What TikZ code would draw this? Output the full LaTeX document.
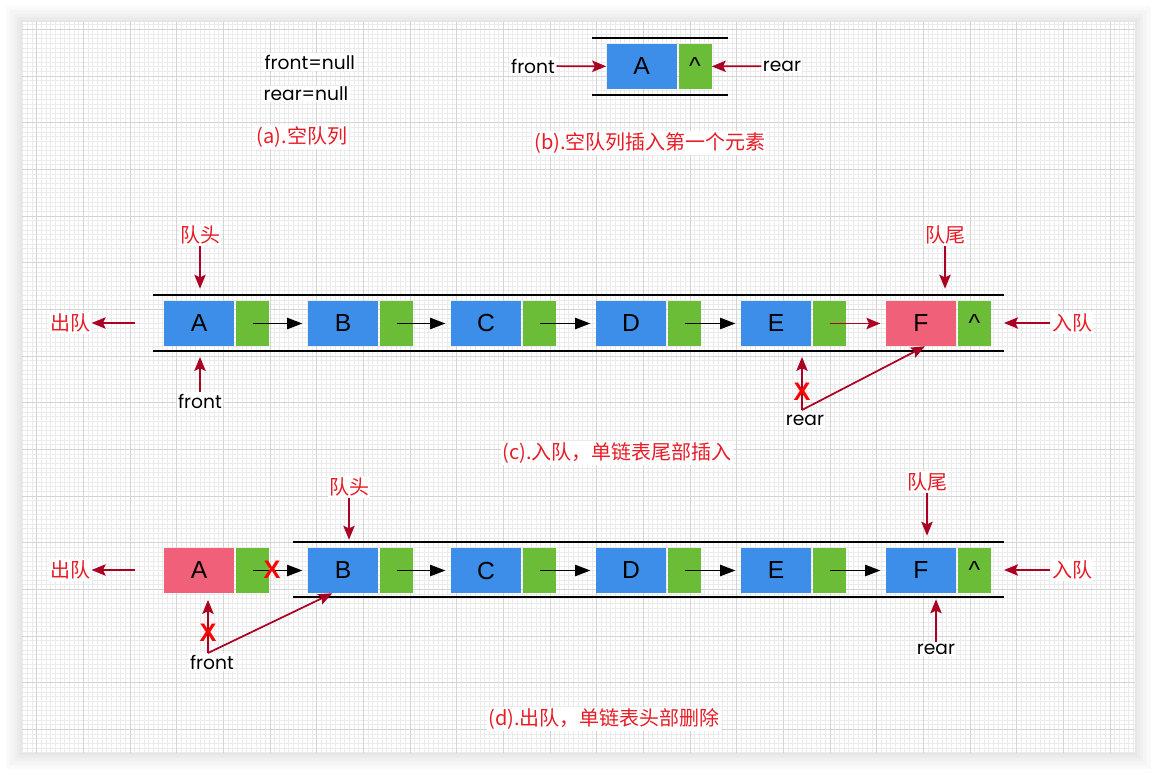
\documentclass[tikz,border=0pt]{standalone}
\usepackage{fontspec}
\setmainfont{Liberation Sans}
\newfontfamily\latinfont{Poppins}
\newfontfamily\cjk{Noto Sans CJK SC}
\usepackage{tikz}
\usetikzlibrary{arrows.meta}
\usepackage{xcolor}
\definecolor{QBlue}{RGB}{60,142,232}
\definecolor{QGreen}{RGB}{107,189,56}
\definecolor{QPink}{RGB}{240,96,120}
\definecolor{PtrRed}{RGB}{170,0,35}
\definecolor{LabelRed}{RGB}{232,28,38}
\tikzset{
	databox/.style={fill=QBlue, minimum width=52.5pt, minimum height=33.75pt, inner sep=0pt, font=\fontsize{18.5}{20}\selectfont},
	ptrbox/.style={fill=QGreen, minimum width=24.75pt, minimum height=33.75pt, inner sep=0pt, font=\fontsize{18.5}{20}\selectfont},
	newbox/.style={databox, fill=QPink},
	wall/.style={black, line width=1.5pt},
	nextptr/.style={black, line width=1pt, -{Triangle[length=11.5pt,width=8.5pt]}},
	redptr/.style={PtrRed, line width=1.3pt, -{Stealth[length=10.5pt,width=8.5pt,inset=2pt]}},
	labeltext/.style={fill=white, inner sep=1pt, font=\latinfont\fontsize{14}{16}\selectfont},
	cnlabel/.style={fill=white, inner sep=1pt, text=LabelRed, font=\cjk\fontsize{15}{17}\selectfont},
	captiontext/.style={cnlabel, font=\cjk\fontsize{15}{17}\selectfont},
	cross/.style={text=red, inner sep=0pt, font=\bfseries\fontsize{19}{20}\selectfont},
	shade/.style={black, opacity=0.018},
	minorgrid/.style={black!8, line width=0.3pt},
	majorgrid/.style={black!17, line width=0.5pt},
}

\begin{document}
\begin{tikzpicture}[x=0.75pt,y=-0.75pt]
	\useasboundingbox (0,0) rectangle (1157,775);
	
	% Sheet with soft shadow and grid
	\fill[white] (0,0) rectangle (1157,775);
	\fill[shade] (6,6) rectangle (1151,769);
	\fill[shade] (10,10) rectangle (1147,765);
	\fill[shade] (14,14) rectangle (1143,761);
	\fill[shade] (17,17) rectangle (1140,758);
	\fill[shade] (20,20) rectangle (1137,755);
	\fill[white] (22,22) rectangle (1135,752);
	\begin{scope}
		\clip (22,22) rectangle (1135,752);
		\begin{scope}[xshift=27.5pt, yshift=-22pt]
			\draw[minorgrid, step=3.5pt] (-14.7,730) grid (1098.3,-7.3);
			\draw[majorgrid, step=35pt] (-14.7,730) grid (1098.3,-7.3);
		\end{scope}
	\end{scope}
	
	% (a) empty queue
	\node[labeltext, anchor=west] (anull) at (263,62) {front=null};
	\node[labeltext, anchor=west] (rnull) at (262,94) {rear=null};
	\node[captiontext] (capa) at (302,137) {(a).空队列};
	
	% (b) first element
	\draw[wall] (592,38) -- (728,38);
	\draw[wall] (592,95) -- (728,95);
	\node[databox] (bA) at (641.5,66.5) {A};
	\node[ptrbox] (bAp) at (695,66.5) {\textasciicircum};
	\node[labeltext] (bfront) at (533,66) {front};
	\node[labeltext] (brear) at (782,66) {rear};
	\draw[redptr] (bfront) -- (bA);
	\draw[redptr] (brear) -- (bAp);
	\node[captiontext] (capb) at (650,143) {(b).空队列插入第一个元素};
	
	% (c) enqueue at the tail
	\draw[wall] (153,295) -- (1004,295);
	\draw[wall] (153,351) -- (1004,351);
	\node[databox] (cA) at (199,323.5) {A};
	\node[ptrbox] (cAp) at (252.5,323.5) {};
	\node[databox] (cB) at (343,323.5) {B};
	\node[ptrbox] (cBp) at (396.5,323.5) {};
	\node[databox] (cC) at (486,323.5) {C};
	\node[ptrbox] (cCp) at (539.5,323.5) {};
	\node[databox] (cD) at (631,323.5) {D};
	\node[ptrbox] (cDp) at (684.5,323.5) {};
	\node[databox] (cE) at (776,323.5) {E};
	\node[ptrbox] (cEp) at (829.5,323.5) {};
	\node[newbox] (cF) at (921,323.5) {F};
	\node[ptrbox] (cFp) at (974.5,323.5) {\textasciicircum};
	\draw[nextptr, shorten >=4pt] (cAp.center) -- (cB.west);
	\draw[nextptr, shorten >=4pt] (cBp.center) -- (cC.west);
	\draw[nextptr, shorten >=4pt] (cCp.center) -- (cD.west);
	\draw[nextptr, shorten >=4pt] (cDp.center) -- (cE.west);
	\draw[redptr, shorten >=4pt] (cEp.center) -- (cF.west);
	
	\node[cnlabel] (chead) at (200,235) {队头};
	\draw[redptr, shorten >=9pt] (chead) -- (chead |- cA.north);
	\node[labeltext] (cfront) at (200,401) {front};
	\draw[redptr, shorten >=8pt] (cfront) -- (cfront |- cA.south);
	\node[cnlabel] (cdeq) at (70,323) {出队};
	\coordinate (cout) at (135,323);
	\draw[redptr] (cout) -- (cdeq);
	\node[cnlabel] (ctail) at (945,235) {队尾};
	\draw[redptr, shorten >=9pt] (ctail) -- (ctail |- cF.north);
	\node[cnlabel] (cenq) at (1072,323) {入队};
	\coordinate (cin) at (1004,323);
	\draw[redptr] (cenq) -- (cin);
	
	\node[labeltext] (crear) at (805,420) {rear};
	\coordinate (crearpt) at (802,410);
	\draw[redptr, shorten >=8pt] (crearpt) -- (crearpt |- cE.south);
	\draw[redptr] (crearpt) -- ([xshift=3pt]cF.south);
	\node[cross] (cx) at (802,392) {X};
	\node[captiontext] (capc) at (617,453) {(c).入队，单链表尾部插入};
	
	% (d) dequeue at the head
	\draw[wall] (293,542) -- (1004,542);
	\draw[wall] (293,597) -- (1004,597);
	\node[newbox] (dA) at (199,570.5) {A};
	\node[ptrbox] (dAp) at (252.5,570.5) {};
	\node[databox] (dB) at (343,570.5) {B};
	\node[ptrbox] (dBp) at (396.5,570.5) {};
	\node[databox] (dC) at (486,570.5) {C};
	\node[ptrbox] (dCp) at (539.5,570.5) {};
	\node[databox] (dD) at (631,570.5) {D};
	\node[ptrbox] (dDp) at (684.5,570.5) {};
	\node[databox] (dE) at (776,570.5) {E};
	\node[ptrbox] (dEp) at (829.5,570.5) {};
	\node[databox] (dF) at (921,570.5) {F};
	\node[ptrbox] (dFp) at (974.5,570.5) {\textasciicircum};
	\draw[nextptr, shorten >=4pt] (dAp.center) -- (dB.west);
	\draw[nextptr, shorten >=4pt] (dBp.center) -- (dC.west);
	\draw[nextptr, shorten >=4pt] (dCp.center) -- (dD.west);
	\draw[nextptr, shorten >=4pt] (dDp.center) -- (dE.west);
	\draw[nextptr, shorten >=4pt] (dEp.center) -- (dF.west);
	\node[cross] (dxlink) at (272,570) {X};
	
	\node[cnlabel] (dhead) at (349,487) {队头};
	\draw[redptr, shorten >=6pt] (dhead) -- (dhead |- dB.north);
	\node[cnlabel] (ddeq) at (70,570) {出队};
	\coordinate (dout) at (135,570);
	\draw[redptr] (dout) -- (ddeq);
	\node[cnlabel] (dtail) at (927,482) {队尾};
	\draw[redptr, shorten >=9pt] (dtail) -- (dtail |- dF.north);
	\node[cnlabel] (denq) at (1072,570) {入队};
	\coordinate (din) at (1004,570);
	\draw[redptr] (denq) -- (din);
	
	\node[labeltext] (dfront) at (212,662) {front};
	\coordinate (dfrontpt) at (208,653);
	\draw[redptr, shorten >=5pt] (dfrontpt) -- (dfrontpt |- dA.south);
	\draw[redptr] (dfrontpt) -- ([xshift=-8pt]dB.south);
	\node[cross] (dxfront) at (208,633) {X};
	\node[labeltext] (drear) at (936,649) {rear};
	\draw[redptr, shorten >=4.5pt] (drear) -- (drear |- dF.south);
	\node[captiontext] (capd) at (604,719) {(d).出队，单链表头部删除};
	
\end{tikzpicture}
\end{document}
